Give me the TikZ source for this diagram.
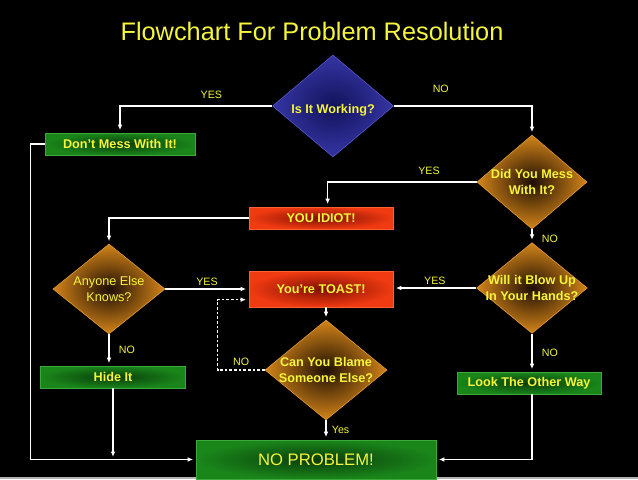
\documentclass[tikz,border=0pt]{standalone}
\usepackage{fontspec}
\setmainfont{Liberation Sans}
\usetikzlibrary{shapes.geometric,arrows.meta}

\definecolor{ylw}{HTML}{F5F53C}
\definecolor{ofill}{HTML}{D4851A}
\definecolor{ocore}{HTML}{1E0E00}
\definecolor{oedge}{HTML}{E8A040}
\definecolor{bfill}{HTML}{3535A5}
\definecolor{bcore}{HTML}{12125A}
\definecolor{bedge}{HTML}{5A5AD0}
\definecolor{rfill}{HTML}{F03A12}
\definecolor{rcore}{HTML}{801000}
\definecolor{redge}{HTML}{FF6030}
\definecolor{gfill}{HTML}{1A861A}
\definecolor{gcore}{HTML}{0A3C0A}
\definecolor{gedge}{HTML}{3AA83A}

\tikzset{
  txt/.style={text=ylw, align=center, font=\bfseries\fontsize{9.5}{11.5}\selectfont},
  lbl/.style={text=ylw, inner sep=1pt, font=\fontsize{8}{9}\selectfont},
  orangedia/.style={diamond, draw=oedge, inner color=ocore, outer color=ofill, inner sep=0pt},
  bluedia/.style={diamond, draw=bedge, inner color=bcore, outer color=bfill, inner sep=0pt},
  redbox/.style={rectangle, draw=redge, inner color=rcore, outer color=rfill, inner sep=0pt, txt},
  greenbox/.style={rectangle, draw=gedge, inner color=gcore, outer color=gfill, inner sep=0pt, txt},
  conn/.style={draw=white, line width=0.8pt, shorten >=2pt, -{Latex[length=4pt,width=3.5pt]}}
}

\begin{document}
\begin{tikzpicture}[x=0.75pt, y=-0.75pt]
    % background
    \fill[black] (0,0) rectangle (638,479);
    \fill[gray!60] (0,476.5) rectangle (638,479);
    \useasboundingbox (0,0) rectangle (638,479);

    % title
    \node[text=ylw, font=\fontsize{19}{22}\selectfont] (title) at (312,31) {Flowchart For Problem Resolution};

    % decisions
    \node[bluedia, minimum width=90.75pt, minimum height=76.5pt,
          label={[txt, yshift=-3pt]center:Is It Working?}] (work) at (333,106) {};
    \node[orangedia, minimum width=82.5pt, minimum height=70.5pt,
          label={[txt]center:{Did You Mess\\With It?}}] (did) at (532,182) {};
    \node[orangedia, minimum width=83pt, minimum height=68pt,
          label={[txt]center:{Will it Blow Up\\In Your Hands?}}] (will) at (532,288) {};
    \node[orangedia, minimum width=84pt, minimum height=67.5pt,
          label={[txt, font=\fontsize{9.5}{11.5}\selectfont]center:{Anyone Else\\Knows?}}] (any) at (109,289) {};
    \node[orangedia, minimum width=91.5pt, minimum height=75pt,
          label={[txt]center:{Can You Blame\\Someone Else?}}] (blame) at (326,370) {};

    % boxes
    \node[greenbox, minimum width=112.5pt, minimum height=16.5pt] (dont) at (120,144) {Don't Mess With It!};
    \node[redbox, minimum width=108pt, minimum height=16.5pt] (idiot) at (321,218) {YOU IDIOT!};
    \node[redbox, minimum width=108pt, minimum height=27pt] (toast) at (321,289) {You're TOAST!};
    \node[greenbox, minimum width=109pt, minimum height=16.5pt] (hide) at (113,377) {Hide It};
    \node[greenbox, minimum width=108pt, minimum height=16.5pt] (look) at (529,383) {Look The Other Way};
    \node[greenbox, minimum width=180pt, minimum height=29.25pt,
          font=\fontsize{12.5}{14}\selectfont] (prob) at (316,459.5) {NO PROBLEM!};

    % connectors
    \draw[conn] (work.west) -| node[lbl, pos=0.2, above=4pt] (yes1) {YES} (dont.north);
    \draw[conn] (work.east) -| node[lbl, pos=0.17, above=9pt] (no1) {NO} (did.north);
    \draw[conn] (did.west) -| node[lbl, pos=0.16, above=4pt] (yes2) {YES} ([xshift=5pt]idiot.north);
    \draw[conn] (idiot.west) -| (any.north);
    \draw[conn] (any.east) -- node[lbl, above=1pt] (yes3) {YES} (toast.west);
    \draw[conn] (will.west) -- node[lbl, above=1pt] (yes4) {YES} (will.west -| toast.east);
    \draw[conn] (did.south) -- node[lbl, pos=0.7, right=6pt] (no2) {NO} (will.north);
    \draw[conn] (toast.south -| blame.north) -- (blame.north);
    \draw[conn] (blame.south) -- node[lbl, right=3pt] (yes5) {Yes} (blame.south |- prob.north);
    \draw[conn, dash pattern=on 2pt off 1.5pt] (blame.west) -- node[lbl, above=2pt] (no3) {NO} ++(-47,0)
        |- ([yshift=-8pt]toast.west);
    \draw[conn] (any.south) -- node[lbl, right=6pt] (no4) {NO} (any.south |- hide.north);
    \draw[conn] (will.south) -- node[lbl, right=6pt] (no5) {NO} (will.south |- look.north);
    \draw[conn] (hide.south) -- (hide.south |- prob.west);
    \draw[conn] (dont.west) -- ++(-14,0) |- (prob.west);
    \draw[conn] (look.south -| will.south) |- (prob.east);
\end{tikzpicture}
\end{document}
